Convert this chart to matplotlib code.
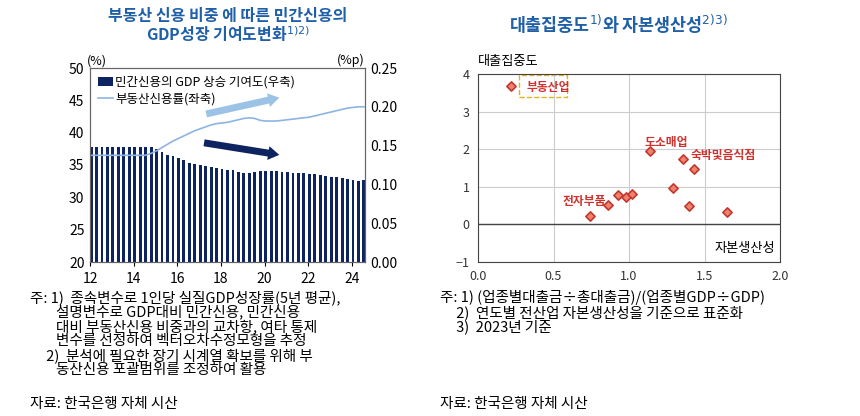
import numpy as np
import matplotlib
matplotlib.use("Agg")
import matplotlib.pyplot as plt
from matplotlib.patches import Rectangle

plt.rcParams['font.family'] = 'Noto Sans CJK KR'

# Left panel data (quarterly 2012Q1 - 2024Q3)
bar_values = [0.148]*12 + [0.146, 0.142, 0.138, 0.136, 0.134, 0.132, 0.128, 0.126,
              0.125, 0.124, 0.122, 0.121, 0.120, 0.119, 0.118, 0.116, 0.115, 0.115,
              0.116, 0.117, 0.117, 0.117, 0.117, 0.116, 0.116, 0.115, 0.115, 0.115,
              0.114, 0.113, 0.112, 0.111, 0.110, 0.109, 0.108, 0.107, 0.106, 0.105, 0.106]
line_values = [36.5]*11 + [36.8, 37.2, 37.7, 38.2, 38.7, 39.1, 39.5, 39.9, 40.3, 40.6,
               40.9, 41.2, 41.4, 41.5, 41.6, 41.8, 42.0, 42.2, 42.3, 42.2, 41.9, 41.8,
               41.8, 41.8, 41.9, 42.0, 42.1, 42.2, 42.3, 42.4, 42.6, 42.8, 43.0, 43.2,
               43.4, 43.6, 43.8, 43.9, 44.0, 44.0]
x_ticks = [12, 14, 16, 18, 20, 22, 24]

# Right panel data
prod = [0.22, 0.74, 0.86, 0.93, 0.98, 1.02, 1.14, 1.29, 1.36, 1.40, 1.43, 1.65]
conc = [3.67, 0.23, 0.52, 0.78, 0.73, 0.80, 1.95, 0.97, 1.74, 0.50, 1.48, 0.33]

fig = plt.figure(figsize=(8.6, 4.16), dpi=100)
W, H = 860, 416
def ax_rect(l, t, r, b):
    return [l/W, 1-b/H, (r-l)/W, (b-t)/H]

ax = fig.add_axes(ax_rect(90, 68, 365, 262))
n = len(bar_values)
xq = 12 + np.arange(n)*0.25 + 0.05
ax2 = ax.twinx()
ax2.bar(xq, bar_values, width=0.13, color='#0e2461', label='민간신용의 GDP 상승 기여도(우축)')
ax.plot(xq[:len(line_values)], line_values, color='#8db4e2', lw=1.2, label='부동산신용률(좌축)')
ax.set_zorder(ax2.get_zorder()+1); ax.patch.set_visible(False)
ax.set_xlim(12, 24.6); ax.set_ylim(20, 50); ax2.set_ylim(0, 0.25)
ax.set_xticks(x_ticks); ax.set_yticks(range(20, 51, 5))
ax2.set_yticks(np.arange(0, 0.26, 0.05)); ax2.set_yticklabels([f'{v:.2f}' for v in np.arange(0, 0.26, 0.05)])
for a in (ax, ax2):
    a.tick_params(labelsize=10, length=0, pad=4)
    for s in a.spines.values(): s.set_color('#666666')
ax.tick_params(axis='x', direction='out', length=3)
ax.text(-0.01, 1.02, '(%)', transform=ax.transAxes, fontsize=9, ha='left')
ax.text(1.0, 1.02, '(%p)', transform=ax.transAxes, fontsize=9, ha='right')
h1, l1 = ax2.get_legend_handles_labels(); h2, l2 = ax.get_legend_handles_labels()
ax.legend(h1+h2, l1+l2, loc='upper left', frameon=False, fontsize=9, handlelength=1.2,
          borderaxespad=0.2, handletextpad=0.2, labelspacing=0.3)
ax.annotate('', xy=(20.8, 45.5), xytext=(17.2, 42.8),
            arrowprops=dict(arrowstyle='simple,head_width=1.0,head_length=0.8,tail_width=0.5', color='#9cc3e6', lw=0))
ax.annotate('', xy=(20.8, 36.5), xytext=(17.1, 38.5),
            arrowprops=dict(arrowstyle='simple,head_width=1.0,head_length=0.8,tail_width=0.5', color='#0e2461', lw=0))

fig.text(228/W, 1-26/H, '부동산 신용 비중 에 따른 민간신용의\nGDP성장 기여도변화$^{1)2)}$', ha='center', va='center',
         fontsize=11.5, color='#1f5fa8', linespacing=1.0, fontweight='bold')

# Right panel
bx = fig.add_axes(ax_rect(478, 74, 780, 262))
bx.grid(True, color='#cccccc', lw=0.8)
bx.axhline(0, color='#444444', lw=1)
bx.scatter(prod, conc, marker='D', s=22, facecolor='#f08070', edgecolor='#c0392b', lw=1.2, zorder=3)
bx.set_xlim(0, 2); bx.set_ylim(-1, 4)
bx.set_xticks(np.arange(0, 2.01, 0.5)); bx.set_xticklabels([f'{v:.1f}' for v in np.arange(0, 2.01, 0.5)])
bx.set_yticks(range(-1, 5))
bx.tick_params(labelsize=9, length=0, pad=6, colors='#333333')
for s in bx.spines.values(): s.set_color('#444444')
red = '#d0312d'
bx.text(0.32, 3.64, '부동산업', color=red, fontsize=8.5, fontweight='bold', va='center')
bx.add_patch(Rectangle((0.27, 3.38), 0.32, 0.6, fill=False, ls='--', ec='#e8b020', lw=1))
bx.text(1.10, 2.18, '도소매업', color=red, fontsize=8.5, fontweight='bold', va='center')
bx.text(1.41, 1.82, '숙박및음식점', color=red, fontsize=8.5, fontweight='bold', va='center')
bx.text(0.56, 0.62, '전자부품', color=red, fontsize=8.5, fontweight='bold', va='center')
bx.text(0.0, 1.03, '대출집중도', transform=bx.transAxes, fontsize=9.5, ha='left', va='bottom')
bx.text(1.97, -0.65, '자본생산성', fontsize=9.5, ha='right', va='center')
fig.text(618/W, 1-24/H, '대출집중도$^{1)}$와 자본생산성$^{2)3)}$', ha='center', va='center',
         fontsize=12.5, color='#1f5fa8', fontweight='bold')

# Footnotes
fs = 10.5
fig.text(30/W, 1-290/H, '주: 1)  종속변수로 1인당 실질GDP성장률(5년 평균),\n        설명변수로 GDP대비 민간신용, 민간신용\n        대비 부동산신용 비중과의 교차항, 여타 통제\n        변수를 선정하여 벡터오차수정모형을 추정\n     2)  분석에 필요한 장기 시계열 확보를 위해 부\n        동산신용 포괄범위를 조정하여 활용',
         fontsize=fs, va='top', linespacing=1.0)
fig.text(30/W, 1-404/H, '자료: 한국은행 자체 시산', fontsize=fs, va='center')
fig.text(440/W, 1-290/H, '주: 1) (업종별대출금÷총대출금)/(업종별GDP÷GDP)\n     2)  연도별 전산업 자본생산성을 기준으로 표준화\n     3)  2023년 기준',
         fontsize=fs, va='top', linespacing=1.0)
fig.text(440/W, 1-404/H, '자료: 한국은행 자체 시산', fontsize=fs, va='center')

fig.savefig('out.png', dpi=100)
